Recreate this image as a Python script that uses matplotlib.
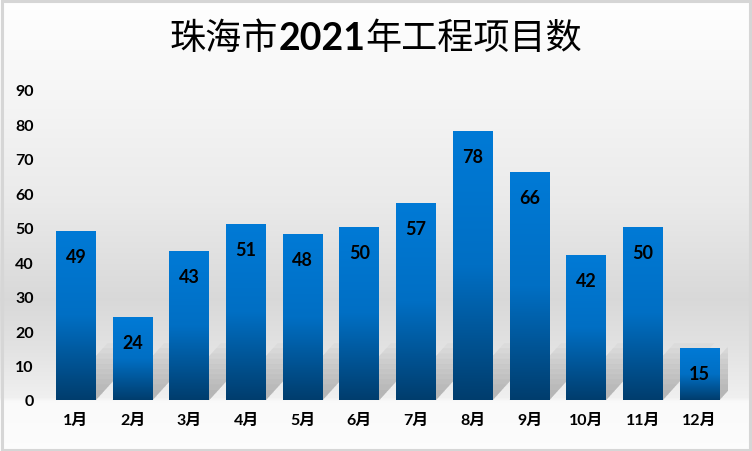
import numpy as np
import matplotlib
matplotlib.use("Agg")
import matplotlib.pyplot as plt
from matplotlib.colors import LinearSegmentedColormap
from matplotlib.patches import Rectangle, Polygon

# data
months = ["1月", "2月", "3月", "4月", "5月", "6月", "7月", "8月", "9月", "10月", "11月", "12月"]
counts = [49, 24, 43, 51, 48, 50, 57, 78, 66, 42, 50, 15]
y_ticks = [0, 10, 20, 30, 40, 50, 60, 70, 80, 90]
title_parts = [("珠海市", "cjk"), ("2021", "num"), ("年工程项目数", "cjk")]

W, H = 752, 452
NUM_FONT = ["Lato", "DejaVu Sans"]
fig = plt.figure(figsize=(W / 100, H / 100), dpi=100)

# background gradient for the whole chart
bg = fig.add_axes([0, 0, 1, 1], zorder=-10)
rows = np.arange(H)
stops_y = [0, 90, 200, 300, 345, 398, 402, 452]
stops_v = [1.0, 0.965, 0.92, 0.85, 0.885, 0.94, 0.98, 0.99]
shade = np.interp(rows, stops_y, stops_v).reshape(-1, 1)
bg.imshow(np.repeat(shade[:, :, None], 3, axis=2), aspect="auto", extent=[0, 1, 0, 1])
bg.set_axis_off()

# border
fig.patches.append(Rectangle((0.002, 0.003), 0.995, 0.993, transform=fig.transFigure,
                             fill=False, edgecolor="#d6d6d6", linewidth=2.2))

ax = fig.add_axes([47.65 / W, (H - 401) / H, 680.3 / W, 310 / H])
ax.set_facecolor("none")
x = np.arange(len(months))
bar_w = 0.705
bars = ax.bar(x, counts, width=bar_w, color="none", edgecolor="none", zorder=3)

# soft floor shadows behind each bar
for b in bars:
    x0 = b.get_x()
    x1 = x0 + b.get_width()
    for k in range(10):
        h = 3 + k * 1.5
        dx = 0.055 * h
        ax.add_patch(Polygon([(x0, 0), (x1, 0), (x1 + dx, h), (x0 + dx, h)],
                             closed=True, facecolor="#707070", edgecolor="none",
                             alpha=0.05, zorder=1))

# gradient fill for bars
cmap = LinearSegmentedColormap.from_list(
    "bars", [(0.0, "#003d6d"), (0.5, "#006fc4"), (1.0, "#007ad6")])
grad = np.linspace(1, 0, 256).reshape(-1, 1)
for b in bars:
    x0 = b.get_x()
    ax.imshow(grad, cmap=cmap, vmin=0, vmax=1, aspect="auto",
              extent=[x0, x0 + b.get_width(), 0, b.get_height()], zorder=2)

for xi, v in zip(x, counts):
    ax.annotate(str(v), (xi, v), xytext=(0, -18), textcoords="offset points",
                ha="center", va="center", fontsize=13, fontweight="bold",
                family=NUM_FONT, color="black", zorder=4)

ax.set_xlim(-0.5, len(months) - 0.5)
ax.set_ylim(0, 90)
ax.set_xticks(x)
ax.set_xticklabels(months, fontsize=11.5, fontweight="bold",
                   family=["Lato", "Noto Sans CJK SC"])
ax.set_yticks(y_ticks)
ax.set_yticklabels([str(t) for t in y_ticks], fontsize=11.5, fontweight="bold",
                   family=NUM_FONT)
ax.tick_params(axis="both", length=0)
ax.tick_params(axis="y", pad=10)
ax.tick_params(axis="x", pad=9)
for s in ax.spines.values():
    s.set_visible(False)

# title built from pieces with different fonts
fig.canvas.draw()
renderer = fig.canvas.get_renderer()
texts = []
for part, kind in title_parts:
    if kind == "cjk":
        t = fig.text(0, 0.914, part, fontsize=26, family=["Noto Sans CJK SC"],
                     ha="left", va="center")
    else:
        t = fig.text(0, 0.914, part, fontsize=27, fontweight="bold",
                     family=NUM_FONT, ha="left", va="center")
    texts.append(t)
widths = [t.get_window_extent(renderer).width for t in texts]
left = (W - sum(widths)) / 2
for t, w in zip(texts, widths):
    t.set_x(left / W)
    left += w

fig.savefig("out.png", dpi=100)
